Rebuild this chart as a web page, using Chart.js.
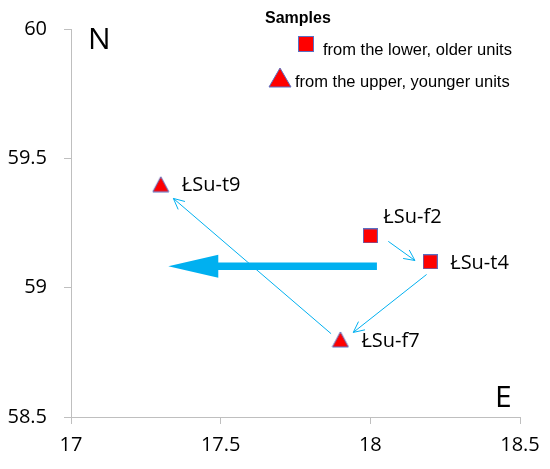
<!DOCTYPE html>
<html>
<head>
<meta charset="utf-8">
<script src="https://cdn.jsdelivr.net/npm/chart.js@4.4.1/dist/chart.umd.min.js"></script>
<style>
  html, body { margin: 0; padding: 0; background: #fff; }
  #wrap { width: 550px; height: 469px; }
</style>
</head>
<body>
<div id="wrap"><canvas id="sampleChart" width="550" height="469"></canvas></div>
<script>
// sample positions (E = x, N = y)
const olderNames = ['ŁSu-f2', 'ŁSu-t4'];
const olderE = [18.0, 18.2];
const olderN = [59.2, 59.1];

const youngerNames = ['ŁSu-f7', 'ŁSu-t9'];
const youngerE = [17.9, 17.3];
const youngerN = [58.8, 59.4];

// thin arrows between samples: [fromE, fromN, toE, toN]
const thinArrows = [
    [18.060, 59.179, 18.149, 59.105],
    [18.188, 59.051, 17.943, 58.827],
    [17.869, 58.822, 17.342, 59.345]
];
// thick arrow: [fromE, fromN, toE, toN]
const bigArrow = [18.022, 59.083, 17.325, 59.083];

const xTicks = [17, 17.5, 18, 18.5];
const yTicks = [58.5, 59, 59.5, 60];

const legendTitle = 'Samples';
const legendOlder = 'from the lower, older units';
const legendYounger = 'from the upper, younger units';

const red = '#ff0000';
const edge = '#5a6fc2';
const blue = '#00b0f0';
const axisGrey = '#bfbfbf';
const labelFont = '20px "Open Sans"';

// label offsets from the marker, in pixels
const labelOffset = {
    'ŁSu-f2': [13, -13],
    'ŁSu-t4': [20, 7],
    'ŁSu-f7': [21, 8],
    'ŁSu-t9': [21, 7]
};

function makeSquare(size) {
    let c = document.createElement('canvas');
    c.width = size + 1; c.height = size + 1;
    let g = c.getContext('2d');
    g.fillStyle = red;
    g.fillRect(0.5, 0.5, size, size);
    g.strokeStyle = edge;
    g.lineWidth = 1;
    g.strokeRect(0.5, 0.5, size, size);
    return c;
}

function makeTriangle(w, h) {
    let c = document.createElement('canvas');
    c.width = w + 2; c.height = h + 2;
    let g = c.getContext('2d');
    g.beginPath();
    g.moveTo(1, h + 1);
    g.lineTo(w / 2 + 1, 1);
    g.lineTo(w + 1, h + 1);
    g.closePath();
    g.fillStyle = red;
    g.fill();
    g.strokeStyle = edge;
    g.lineWidth = 1;
    g.stroke();
    return c;
}

const squareImg = makeSquare(14);
const triangleImg = makeTriangle(16, 15);
const squareLegendImg = makeSquare(15);
const triangleLegendImg = makeTriangle(22, 19);

function toPoints(es, ns, names) {
    return es.map((e, i) => ({ x: e, y: ns[i], name: names[i] }));
}

function arrowHead(ctx, x1, y1, x2, y2, len) {
    let a = Math.atan2(y2 - y1, x2 - x1);
    let spread = 0.45;
    ctx.beginPath();
    ctx.moveTo(x2 - len * Math.cos(a - spread), y2 - len * Math.sin(a - spread));
    ctx.lineTo(x2, y2);
    ctx.lineTo(x2 - len * Math.cos(a + spread), y2 - len * Math.sin(a + spread));
    ctx.stroke();
}

const decorations = {
    id: 'decorations',
    afterDatasetsDraw(chart) {
        let ctx = chart.ctx;
        let xs = chart.scales.x, ys = chart.scales.y;
        ctx.save();

        // thin arrows
        ctx.strokeStyle = blue;
        ctx.lineWidth = 1;
        thinArrows.forEach(a => {
            let x1 = xs.getPixelForValue(a[0]), y1 = ys.getPixelForValue(a[1]);
            let x2 = xs.getPixelForValue(a[2]), y2 = ys.getPixelForValue(a[3]);
            ctx.beginPath();
            ctx.moveTo(x1, y1);
            ctx.lineTo(x2, y2);
            ctx.stroke();
            arrowHead(ctx, x1, y1, x2, y2, 12);
        });

        // thick arrow
        let bx1 = xs.getPixelForValue(bigArrow[0]), by = ys.getPixelForValue(bigArrow[1]);
        let bx2 = xs.getPixelForValue(bigArrow[2]);
        let headLen = 50, headHalf = 11.5, shaftHalf = 3.7;
        ctx.fillStyle = blue;
        ctx.beginPath();
        ctx.moveTo(bx1, by - shaftHalf);
        ctx.lineTo(bx2 + headLen, by - shaftHalf);
        ctx.lineTo(bx2 + headLen, by - headHalf);
        ctx.lineTo(bx2, by);
        ctx.lineTo(bx2 + headLen, by + headHalf);
        ctx.lineTo(bx2 + headLen, by + shaftHalf);
        ctx.lineTo(bx1, by + shaftHalf);
        ctx.closePath();
        ctx.fill();

        // sample labels
        ctx.fillStyle = '#000';
        ctx.font = labelFont;
        ctx.textBaseline = 'alphabetic';
        ctx.textAlign = 'left';
        chart.data.datasets.forEach(ds => {
            ds.data.forEach(p => {
                let off = labelOffset[p.name];
                ctx.fillText(p.name, xs.getPixelForValue(p.x) + off[0], ys.getPixelForValue(p.y) + off[1]);
            });
        });

        // compass letters
        ctx.font = '30px "Open Sans"';
        ctx.fillText('N', 88, 49);
        ctx.fillText('E', 495, 407);

        // legend
        ctx.font = 'bold 16px "Liberation Sans"';
        ctx.fillText(legendTitle, 265, 23);
        ctx.font = '16.5px "Liberation Sans"';
        ctx.drawImage(squareLegendImg, 298, 36);
        ctx.fillText(legendOlder, 323, 55);
        ctx.drawImage(triangleLegendImg, 268, 67);
        ctx.fillText(legendYounger, 295, 87);

        ctx.restore();
    }
};

const ctx = document.getElementById('sampleChart').getContext('2d');
const chart = new Chart(ctx, {
    type: 'scatter',
    data: {
        datasets: [
            {
                label: legendOlder,
                data: toPoints(olderE, olderN, olderNames),
                pointStyle: squareImg
            },
            {
                label: legendYounger,
                data: toPoints(youngerE, youngerN, youngerNames),
                pointStyle: triangleImg
            }
        ]
    },
    options: {
        responsive: false,
        animation: false,
        layout: { padding: { top: 26, right: 30, left: 0, bottom: 0 } },
        plugins: {
            legend: { display: false },
            tooltip: { enabled: false }
        },
        scales: {
            x: {
                type: 'linear',
                min: 17, max: 18.5,
                afterFit: s => { s.height = 52; },
                afterBuildTicks: s => { s.ticks = xTicks.map(v => ({ value: v })); },
                grid: { drawOnChartArea: false, color: axisGrey, tickLength: 7 },
                border: { color: axisGrey },
                ticks: {
                    color: '#000', font: { family: 'Open Sans', size: 20 }, padding: 9, maxRotation: 0,
                    callback: v => String(v)
                }
            },
            y: {
                type: 'linear',
                min: 58.5, max: 60,
                afterFit: s => { s.width = 71; },
                afterBuildTicks: s => { s.ticks = yTicks.map(v => ({ value: v })); },
                grid: { drawOnChartArea: false, color: axisGrey, tickLength: 7 },
                border: { color: axisGrey },
                ticks: {
                    color: '#000', font: { family: 'Open Sans', size: 20 }, padding: 17,
                    callback: v => String(v)
                }
            }
        }
    },
    plugins: [decorations]
});
</script>
</body>
</html>
